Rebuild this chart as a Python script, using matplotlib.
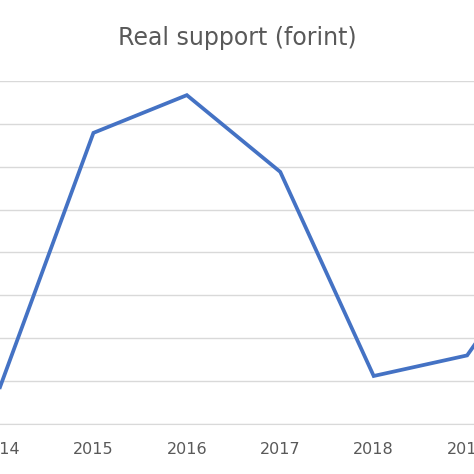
import matplotlib
matplotlib.use('Agg')
import matplotlib.pyplot as plt

years = [2014, 2015, 2016, 2017, 2018, 2019, 2020]
support = [0.86, 6.79, 7.67, 5.88, 1.12, 1.6, 4.7]
tick_years = [2014, 2015, 2016, 2017, 2018, 2019]

fig = plt.figure(figsize=(4.74, 4.74), dpi=100)
ax = fig.add_axes([0, 50 / 474, 1, 343 / 474])
ax.plot(years, support, color='#4472C4', linewidth=2.7, solid_joinstyle='miter')
left = 2014 + 8 / 95
ax.set_xlim(left, left + 474 / 95)
ax.set_ylim(0, 8)
ax.set_yticks(range(0, 9))
ax.set_yticklabels([])
ax.tick_params(axis='y', length=0)
ax.set_xticks(tick_years)
ax.set_xticklabels([str(y) for y in tick_years])
ax.tick_params(axis='x', length=0, labelsize=11.5, colors='#595959', pad=13)
ax.grid(axis='y', color='#D9D9D9', linewidth=1)
ax.set_axisbelow(True)
for s in ['top', 'left', 'right']:
    ax.spines[s].set_visible(False)
ax.spines['bottom'].set_color('#D9D9D9')
fig.text(0.5, 1 - 38 / 474, 'Real support (forint)', ha='center', va='center',
         fontsize=17, color='#595959')
fig.savefig('out.png', dpi=100)
